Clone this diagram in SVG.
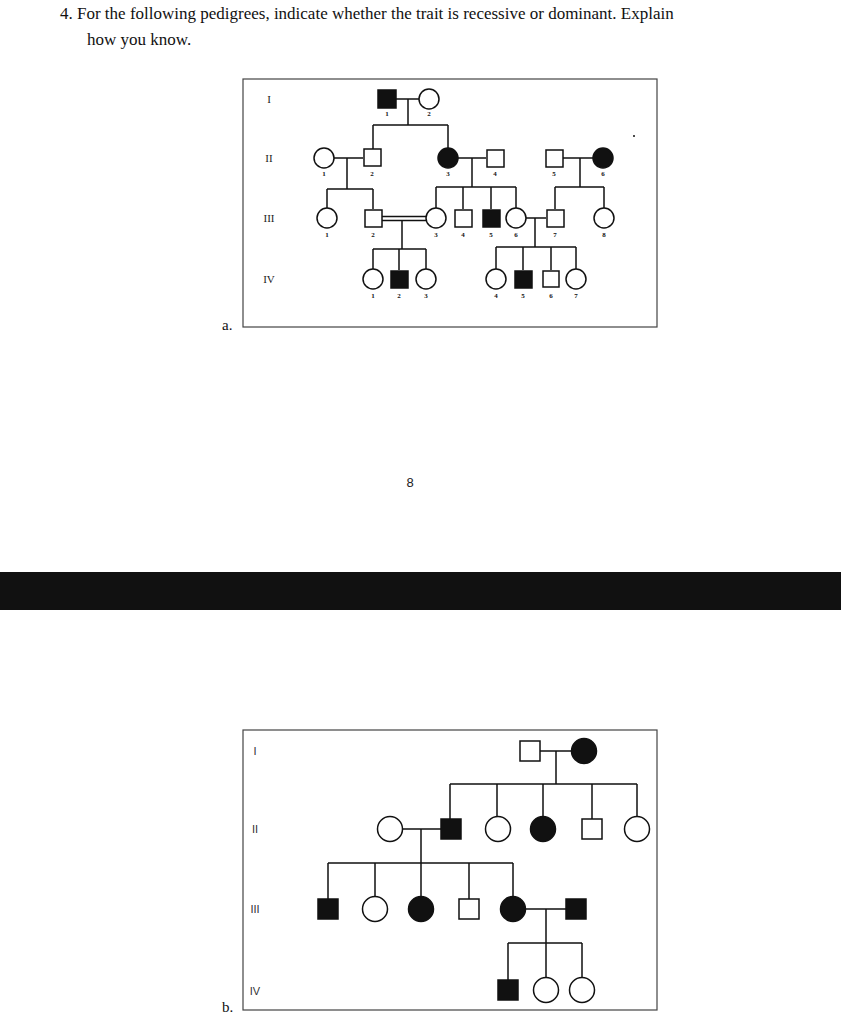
<svg xmlns="http://www.w3.org/2000/svg" width="841" height="1018" viewBox="0 0 841 1018">
<style>
.t{font-family:"Liberation Serif",serif;fill:#111}
.n{font-family:"Liberation Serif",serif;font-size:7px;font-weight:bold;text-anchor:middle;fill:#111}
.r{font-family:"Liberation Serif",serif;font-size:11px;text-anchor:middle;fill:#222}
.rs{font-family:"Liberation Sans",sans-serif;font-size:11px;text-anchor:middle;fill:#333}
.o{fill:#fff;stroke:#111;stroke-width:1.5}
.f{fill:#111;stroke:#111;stroke-width:1.5}
.l{fill:none;stroke:#111;stroke-width:1.5}
.box{fill:#fff;stroke:#444;stroke-width:1.2}
</style>
<rect width="841" height="1018" fill="#fff"/>
<text class="t" x="60" y="19" font-size="17">4.  For the following pedigrees, indicate whether the trait is recessive or dominant.  Explain</text>
<text class="t" x="87" y="45" font-size="17">how you know.</text>
<text class="t" x="222" y="330" font-size="15">a.</text>
<text class="t" x="222" y="1012" font-size="15">b.</text>
<text x="410" y="487" font-family="Liberation Sans,sans-serif" font-size="13" text-anchor="middle" fill="#222">8</text>
<rect x="0" y="572" width="841" height="38" fill="#111"/>

<g id="pedigree-a">
<rect class="box" x="243" y="79" width="414" height="248"/>
<text class="r" x="269" y="103">I</text>
<text class="r" x="269" y="162">II</text>
<text class="r" x="269" y="222">III</text>
<text class="r" x="269" y="283">IV</text>
<circle cx="634" cy="136" r="1" fill="#111"/>
<g id="a-connectors">
<path class="l" d="M396 99H419M408 99V125M373 125H448M373 125V149M448 125V148"/>
<path class="l" d="M334 158H363M347 158V189M327 189H373M327 189V208M373 189V209"/>
<path class="l" d="M458 158H486M472 158V187M436 187H516M436 187V208M463 187V209M491 187V209M516 187V208"/>
<path class="l" d="M563 158H593M580 158V187M555 187H604M555 187V209M604 187V208"/>
<path class="l" d="M382 216.5H426M382 220.5H426M402 220V249M373 249H426M373 249V269M399 249V270M426 249V269"/>
<path class="l" d="M526 218H546M535 218V247M496 247H576M496 247V269M523 247V270M551 247V270M576 247V269"/>
</g>
<g id="a-I-1"><rect class="f" x="378" y="90" width="18" height="18"/><text class="n" x="387" y="116">1</text></g>
<g id="a-I-2"><circle class="o" cx="429" cy="99" r="10"/><text class="n" x="429" y="116">2</text></g>
<g id="a-II-1"><circle class="o" cx="324" cy="158" r="10"/><text class="n" x="324" y="176">1</text></g>
<g id="a-II-2"><rect class="o" x="364" y="149" width="17" height="17"/><text class="n" x="372" y="176">2</text></g>
<g id="a-II-3"><circle class="f" cx="448" cy="158" r="10"/><text class="n" x="448" y="176">3</text></g>
<g id="a-II-4"><rect class="o" x="487" y="150" width="17" height="17"/><text class="n" x="495" y="176">4</text></g>
<g id="a-II-5"><rect class="o" x="546" y="150" width="17" height="17"/><text class="n" x="554" y="176">5</text></g>
<g id="a-II-6"><circle class="f" cx="603" cy="158" r="10"/><text class="n" x="603" y="176">6</text></g>
<g id="a-III-1"><circle class="o" cx="327" cy="218" r="10"/><text class="n" x="327" y="237">1</text></g>
<g id="a-III-2"><rect class="o" x="365" y="210" width="17" height="17"/><text class="n" x="373" y="237">2</text></g>
<g id="a-III-3"><circle class="o" cx="436" cy="218" r="10"/><text class="n" x="436" y="237">3</text></g>
<g id="a-III-4"><rect class="o" x="455" y="210" width="17" height="17"/><text class="n" x="463" y="237">4</text></g>
<g id="a-III-5"><rect class="f" x="483" y="210" width="17" height="17"/><text class="n" x="491" y="237">5</text></g>
<g id="a-III-6"><circle class="o" cx="516" cy="218" r="10"/><text class="n" x="516" y="237">6</text></g>
<g id="a-III-7"><rect class="o" x="547" y="210" width="17" height="17"/><text class="n" x="555" y="237">7</text></g>
<g id="a-III-8"><circle class="o" cx="604" cy="218" r="10"/><text class="n" x="604" y="237">8</text></g>
<g id="a-IV-1"><circle class="o" cx="373" cy="279" r="10"/><text class="n" x="373" y="298">1</text></g>
<g id="a-IV-2"><rect class="f" x="391" y="271" width="17" height="17"/><text class="n" x="399" y="298">2</text></g>
<g id="a-IV-3"><circle class="o" cx="426" cy="279" r="10"/><text class="n" x="426" y="298">3</text></g>
<g id="a-IV-4"><circle class="o" cx="496" cy="279" r="10"/><text class="n" x="496" y="298">4</text></g>
<g id="a-IV-5"><rect class="f" x="515" y="271" width="17" height="17"/><text class="n" x="523" y="298">5</text></g>
<g id="a-IV-6"><rect class="o" x="543" y="271" width="16" height="16"/><text class="n" x="551" y="298">6</text></g>
<g id="a-IV-7"><circle class="o" cx="576" cy="279" r="10"/><text class="n" x="576" y="298">7</text></g>
</g>

<g id="pedigree-b">
<rect class="box" x="243" y="730" width="414" height="280"/>
<text class="rs" x="255" y="755">I</text>
<text class="rs" x="255" y="833">II</text>
<text class="rs" x="255" y="913">III</text>
<text class="rs" x="255" y="995">IV</text>
<g id="b-connectors">
<path class="l" d="M540 751H571M556 751V784M450 784H637M450 784V819M497 784V816M543 784V816M592 784V819M637 784V816"/>
<path class="l" d="M403 829H441M421 829V863M328 863H513M328 863V899M375 863V896M421 863V896M469 863V899M513 863V896"/>
<path class="l" d="M526 909H566M546 909V943M508 943H582M508 943V980M546 943V977M582 943V977"/>
</g>
<g id="b-I-1"><rect class="o" x="520" y="741" width="20" height="20"/></g>
<g id="b-I-2"><circle class="f" cx="584" cy="751" r="12.5"/></g>
<g id="b-II-1"><circle class="o" cx="390" cy="829" r="12.5"/></g>
<g id="b-II-2"><rect class="f" x="441" y="819" width="20" height="20"/></g>
<g id="b-II-3"><circle class="o" cx="498" cy="829" r="12.5"/></g>
<g id="b-II-4"><circle class="f" cx="543" cy="829" r="12.5"/></g>
<g id="b-II-5"><rect class="o" x="582" y="819" width="20" height="20"/></g>
<g id="b-II-6"><circle class="o" cx="637" cy="829" r="12.5"/></g>
<g id="b-III-1"><rect class="f" x="318" y="899" width="20" height="20"/></g>
<g id="b-III-2"><circle class="o" cx="375" cy="909" r="12.5"/></g>
<g id="b-III-3"><circle class="f" cx="421" cy="909" r="12.5"/></g>
<g id="b-III-4"><rect class="o" x="459" y="899" width="20" height="20"/></g>
<g id="b-III-5"><circle class="f" cx="513" cy="909" r="12.5"/></g>
<g id="b-III-6"><rect class="f" x="566" y="899" width="20" height="20"/></g>
<g id="b-IV-1"><rect class="f" x="498" y="980" width="20" height="20"/></g>
<g id="b-IV-2"><circle class="o" cx="546" cy="990" r="12.5"/></g>
<g id="b-IV-3"><circle class="o" cx="582" cy="990" r="12.5"/></g>
</g>
</svg>
